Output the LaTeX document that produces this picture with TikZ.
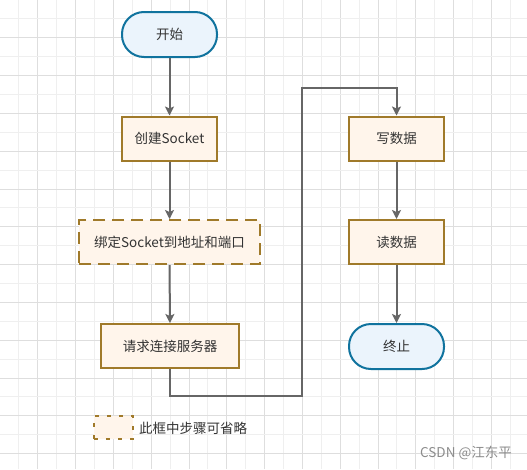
\documentclass[tikz,border=0pt]{standalone}
\usepackage{xcolor}
\usepackage{fontspec}
\usepackage{tikz}
\usetikzlibrary{arrows.meta}
\newfontfamily\cjk{Noto Sans CJK SC}

\definecolor{gridlight}{HTML}{EFEFEF}
\definecolor{griddark}{HTML}{DEDEDE}
\definecolor{termfill}{HTML}{EBF4FC}
\definecolor{termline}{HTML}{10739E}
\definecolor{stepfill}{HTML}{FFF5EB}
\definecolor{stepline}{HTML}{A07A2A}
\definecolor{edgecolor}{HTML}{666666}
\definecolor{textcolor}{HTML}{333333}

\begin{document}
\begin{tikzpicture}[x=1pt,y=-1pt]
			\tikzstyle{terminal} = [draw=termline, fill=termfill, line width=2pt, rounded corners=22pt, minimum width=95pt, minimum height=45pt, inner sep=0pt, font=\cjk\fontsize{13.5pt}{15pt}\selectfont, text=textcolor]
			\tikzstyle{process} = [draw=stepline, fill=stepfill, line width=2pt, minimum height=44pt, inner sep=0pt, font=\cjk\fontsize{13.5pt}{15pt}\selectfont, text=textcolor]
			\tikzstyle{optional} = [process, dash pattern=on 12pt off 7pt]
			\tikzstyle{legendbox} = [process, dash pattern=on 4pt off 8pt, minimum width=39pt, minimum height=23pt]
			\tikzset{edge/.style = {draw=edgecolor, line width=2pt, -{Stealth[length=9pt,width=9pt,inset=2pt]}}}
			
			% background grid
			\useasboundingbox (0,0) rectangle (527,469);
			\fill[white] (0,0) rectangle (527,469);
			\foreach \i in {1,...,27} {
				\pgfmathsetmacro{\gx}{18.9*\i}
				\pgfmathsetmacro{\gc}{ifthenelse(mod(\i,2)==0,"griddark","gridlight")}
				\draw[\gc, line width=1pt] (\gx,0) -- (\gx,469);
			}
			\foreach \j in {1,...,24} {
				\pgfmathsetmacro{\gy}{18.9*\j}
				\pgfmathsetmacro{\gc}{ifthenelse(mod(\j,2)==0,"griddark","gridlight")}
				\draw[\gc, line width=1pt] (0,\gy) -- (527,\gy);
			}
			
			\node[terminal](start) at (169.5,34.5) {开始};
			\node[process, minimum width=95pt](create) at (169.5,138.5) {创建Socket};
			\node[optional, minimum width=181pt](bind) at (169.5,242) {绑定Socket到地址和端口};
			\node[process, minimum width=138pt](request) at (170,346) {请求连接服务器};
			\node[process, minimum width=95pt](write) at (396.5,138.5) {写数据};
			\node[process, minimum width=95pt](read) at (396.5,242) {读数据};
			\node[terminal](stop) at (396.5,346.5) {终止};
			
			\draw[edge](start) to (create);
			\draw[edge](create) to (bind);
			\draw[edge](bind) to (request);
			\coordinate (lowturn) at (302,396);
			\coordinate (highturn) at (302,88);
			\draw[edge](request) |- (lowturn) -- (highturn) -| (write);
			\draw[edge](write) to (read);
			\draw[edge](read) to (stop);
			
			\node[legendbox](legend) at (113.5,427.5) {};
			\node[anchor=west, inner sep=0pt, font=\cjk\fontsize{13.5pt}{15pt}\selectfont, text=textcolor](legendtext) at (139,428) {此框中步骤可省略};
			\node[anchor=east, inner sep=0pt, font=\cjk\fontsize{13.5pt}{15pt}\selectfont, text=black!45](mark) at (512,453) {CSDN @江东平};
\end{tikzpicture}
\end{document}
